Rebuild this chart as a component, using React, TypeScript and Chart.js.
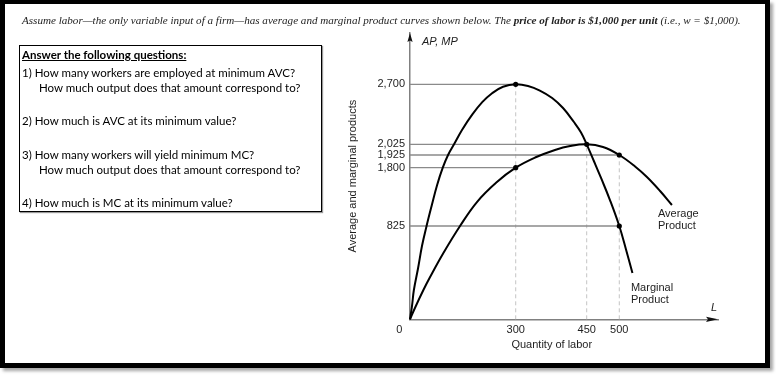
import React, { useEffect, useRef } from 'react';
import { Chart, registerables, LinearScale } from 'chart.js';

Chart.register(...registerables);

// ---------- data ----------
const xTicks = [0, 300, 450, 500];
const yTicks = [825, 1800, 1925, 2025, 2700];

const mpLabor = [0, 6, 11, 23, 34, 47, 62, 77, 93, 108, 125, 148, 177, 205, 233, 264, 300, 326, 351, 377, 400, 423, 438, 450, 461, 472, 486, 500, 510, 520];
const mpValue = [0, 126, 259, 454, 648, 825, 1176, 1511, 1800, 1925, 2025, 2189, 2361, 2499, 2600, 2672, 2700, 2681, 2630, 2546, 2433, 2276, 2158, 2025, 1866, 1628, 1251, 825, 622, 409];

const apLabor = [0, 14, 38, 57, 94, 142, 190, 245, 300, 341, 383, 415, 450, 475, 500, 524, 542, 562, 580];
const apValue = [0, 100, 259, 374, 582, 825, 1226, 1552, 1800, 1900, 1972, 2009, 2025, 2000, 1925, 1812, 1644, 1410, 1176];

const markedLabor = [300, 300, 450, 500, 500];
const markedValue = [2700, 1800, 2025, 1925, 825];

// The textbook figure is not drawn to scale: piecewise axis breakpoints
const AXIS_KNOTS: Record<string, { values: number[]; fractions: number[] }> = {
  x: { values: [0, 300, 450, 500, 650], fractions: [0, 0.3432, 0.5737, 0.6795, 1] },
  y: { values: [0, 825, 1800, 1925, 2025, 2700, 3300], fractions: [0, 0.3259, 0.5295, 0.5739, 0.6112, 0.8208, 1] },
};

function interp(v: number, from: number[], to: number[]) {
  const n = from.length;
  for (let i = 1; i < n; i++) {
    if (v <= from[i] || i === n - 1) {
      const t = (v - from[i - 1]) / (from[i] - from[i - 1]);
      return to[i - 1] + t * (to[i] - to[i - 1]);
    }
  }
  return to[0];
}

class PiecewiseScale extends LinearScale {
  static id = 'piecewise';
  static defaults = LinearScale.defaults;
  getPixelForValue(value: number) {
    const k = AXIS_KNOTS[(this as any).id];
    return (this as any).getPixelForDecimal(interp(value, k.values, k.fractions));
  }
  getValueForPixel(pixel: number) {
    const k = AXIS_KNOTS[(this as any).id];
    return interp((this as any).getDecimalForPixel(pixel), k.fractions, k.values);
  }
}
Chart.register(PiecewiseScale as any);

const FONT_FAMILY = '"Liberation Sans", Arial, sans-serif';
const TEXT = '#1e1e1e';

const decorPlugin = {
  id: 'decor',
  afterDraw(chart: any) {
    const { ctx, chartArea, scales } = chart;
    const xs = scales.x;
    const ys = scales.y;
    const ox = chartArea.left;
    const oy = ys.getPixelForValue(0);
    ctx.save();
    ctx.fillStyle = '#111';
    // y arrow
    ctx.beginPath();
    ctx.moveTo(ox, chartArea.top);
    ctx.lineTo(ox - 2.6, chartArea.top + 9);
    ctx.lineTo(ox, chartArea.top + 7.5);
    ctx.lineTo(ox + 2.6, chartArea.top + 9);
    ctx.closePath();
    ctx.fill();
    // x arrow
    const ex = chartArea.right;
    ctx.beginPath();
    ctx.moveTo(ex, oy);
    ctx.lineTo(ex - 12, oy - 2.6);
    ctx.lineTo(ex - 10, oy);
    ctx.lineTo(ex - 12, oy + 2.6);
    ctx.closePath();
    ctx.fill();

    ctx.fillStyle = TEXT;
    ctx.textBaseline = 'middle';
    ctx.textAlign = 'left';
    ctx.font = 'italic 11px ' + FONT_FAMILY;
    ctx.fillText('AP, MP', ox + 12, chartArea.top + 9);
    ctx.textAlign = 'center';
    ctx.fillText('L', ex - 4, oy - 11);

    ctx.textAlign = 'left';
    ctx.font = '11px ' + FONT_FAMILY;
    const apX = xs.getPixelForValue(apLabor[apLabor.length - 1]);
    const apY = ys.getPixelForValue(apValue[apValue.length - 1]);
    ctx.fillText('Average', apX - 14, apY + 8.5);
    ctx.fillText('Product', apX - 14, apY + 21);
    const mpX = xs.getPixelForValue(mpLabor[mpLabor.length - 1]);
    const mpY = ys.getPixelForValue(mpValue[mpValue.length - 1]);
    ctx.fillText('Marginal', mpX - 1.5, mpY + 14.5);
    ctx.fillText('Product', mpX - 1.5, mpY + 26.5);
    ctx.restore();
  },
};

export default function App() {
  const canvasRef = useRef<HTMLCanvasElement | null>(null);

  useEffect(() => {
    const canvas = canvasRef.current;
    if (!canvas) return;

    const pts = (xs: number[], ys: number[]) => xs.map((x, i) => ({ x, y: ys[i] }));

    const guideH = markedLabor.map((L, i) => ({
      type: 'line' as const,
      data: [{ x: 0, y: markedValue[i] }, { x: L, y: markedValue[i] }],
      borderColor: '#8a8a8a',
      borderWidth: 1.3,
      pointRadius: 0,
      order: 3,
      clip: false as any,
    }));
    const uniqueL = Array.from(new Set(markedLabor));
    const guideV = uniqueL.map((L) => ({
      type: 'line' as const,
      data: [{ x: L, y: 0 }, { x: L, y: Math.max(...markedValue.filter((_, i) => markedLabor[i] === L)) }],
      borderColor: '#c4c4c4',
      borderWidth: 1,
      borderDash: [4, 3],
      pointRadius: 0,
      order: 4,
      clip: false as any,
    }));

    const chart = new Chart(canvas, {
      type: 'line',
      data: {
        datasets: [
          {
            label: 'Marked points',
            data: pts(markedLabor, markedValue),
            showLine: false,
            pointRadius: 2.6,
            pointBackgroundColor: '#000',
            pointBorderWidth: 0,
            order: 0,
            clip: false as any,
          },
          {
            label: 'Marginal Product',
            data: pts(mpLabor, mpValue),
            borderColor: '#000',
            borderWidth: 2,
            pointRadius: 0,
            tension: 0.4,
            order: 1,
            clip: false as any,
          },
          {
            label: 'Average Product',
            data: pts(apLabor, apValue),
            borderColor: '#000',
            borderWidth: 2,
            pointRadius: 0,
            tension: 0.4,
            order: 1,
            clip: false as any,
          },
          ...guideH,
          ...guideV,
        ] as any,
      },
      options: {
        responsive: false,
        animation: false,
        events: [],
        layout: { padding: { left: 330, right: 58, top: 33, bottom: 6.7 } },
        plugins: { legend: { display: false }, tooltip: { enabled: false } },
        scales: {
          x: {
            type: 'piecewise' as any,
            min: 0,
            max: 650,
            afterBuildTicks: (s: any) => {
              s.ticks = xTicks.map((value) => ({ value }));
            },
            afterFit: (s: any) => {
              s.height = 50;
            },
            grid: { display: false, drawTicks: false },
            border: { display: true, color: '#808080', width: 1.5 },
            ticks: {
              autoSkip: false,
              maxRotation: 0,
              padding: 4,
              color: TEXT,
              font: { family: FONT_FAMILY, size: 11 },
              callback: (v: any) => (v === 0 ? '0' + ' '.repeat(7) : String(v)),
            },
            title: {
              display: true,
              text: 'Quantity of labor' + ' '.repeat(8),
              color: TEXT,
              font: { family: FONT_FAMILY, size: 11 },
              padding: { top: 0, bottom: 17.7 },
            },
          } as any,
          y: {
            type: 'piecewise' as any,
            min: 0,
            max: 3300,
            afterBuildTicks: (s: any) => {
              s.ticks = yTicks.map((value) => ({ value }));
            },
            afterFit: (s: any) => {
              s.width = 80;
            },
            grid: { display: false, drawTicks: false },
            border: { display: true, color: '#808080', width: 1.5 },
            ticks: {
              autoSkip: false,
              padding: 5,
              color: TEXT,
              font: { family: FONT_FAMILY, size: 11 },
              callback: (v: any) => Number(v).toLocaleString('en-US'),
            },
            title: {
              display: true,
              text: 'Average and marginal products',
              color: TEXT,
              font: { family: FONT_FAMILY, size: 11 },
              padding: { top: 16, bottom: 0 },
            },
          } as any,
        },
      },
      plugins: [decorPlugin],
    });
    return () => chart.destroy();
  }, []);

  const boxFont = 'Lato, "Open Sans", sans-serif';
  const lines: { text: React.ReactNode; c: number; x: number }[] = [
    { text: <b style={{ textDecoration: 'underline' }}>Answer the following questions:</b>, c: 55, x: 2 },
    { text: '1) How many workers are employed at minimum AVC?', c: 73, x: 2 },
    { text: 'How much output does that amount correspond to?', c: 88, x: 19 },
    { text: '2) How much is AVC at its minimum value?', c: 121, x: 2 },
    { text: '3) How many workers will yield minimum MC?', c: 155, x: 2 },
    { text: 'How much output does that amount correspond to?', c: 170, x: 19 },
    { text: '4) How much is MC at its minimum value?', c: 203, x: 2 },
  ];

  return (
    <div style={{ position: 'fixed', left: 0, top: 0, width: 776, height: 376, background: '#fff', overflow: 'hidden' }}>
      <div
        style={{
          position: 'absolute',
          left: 0,
          top: 0,
          width: 770,
          height: 368,
          boxSizing: 'border-box',
          border: '5px solid #000',
          borderTopWidth: 4,
          boxShadow: '3px 3px 3px rgba(0,0,0,0.35)',
        }}
      />
      <canvas ref={canvasRef} width={776} height={376} style={{ position: 'absolute', left: 0, top: 0, width: 776, height: 376 }} />
      <div
        style={{
          position: 'absolute',
          left: 22,
          top: 14,
          whiteSpace: 'nowrap',
          fontFamily: '"Liberation Serif", "Times New Roman", serif',
          fontStyle: 'italic',
          fontSize: 11.1,
          lineHeight: '13px',
          color: '#222',
        }}
      >
        Assume labor—the only variable input of a firm—has average and marginal product curves shown below. The{' '}
        <b>price of labor is $1,000 per unit</b> <span>(i.e., w = $1,000).</span>
      </div>
      <div
        style={{
          position: 'absolute',
          left: 19,
          top: 45,
          width: 303,
          height: 167,
          boxSizing: 'border-box',
          border: '1px solid #000',
          boxShadow: '1px 1px 1px #999',
          fontFamily: boxFont,
          fontSize: 11.5,
          color: '#000',
        }}
      >
        {lines.map((l, i) => (
          <div key={i} style={{ position: 'absolute', left: l.x, top: l.c - 46 - 7, lineHeight: '14px', whiteSpace: 'nowrap' }}>
            {l.text}
          </div>
        ))}
      </div>
    </div>
  );
}
